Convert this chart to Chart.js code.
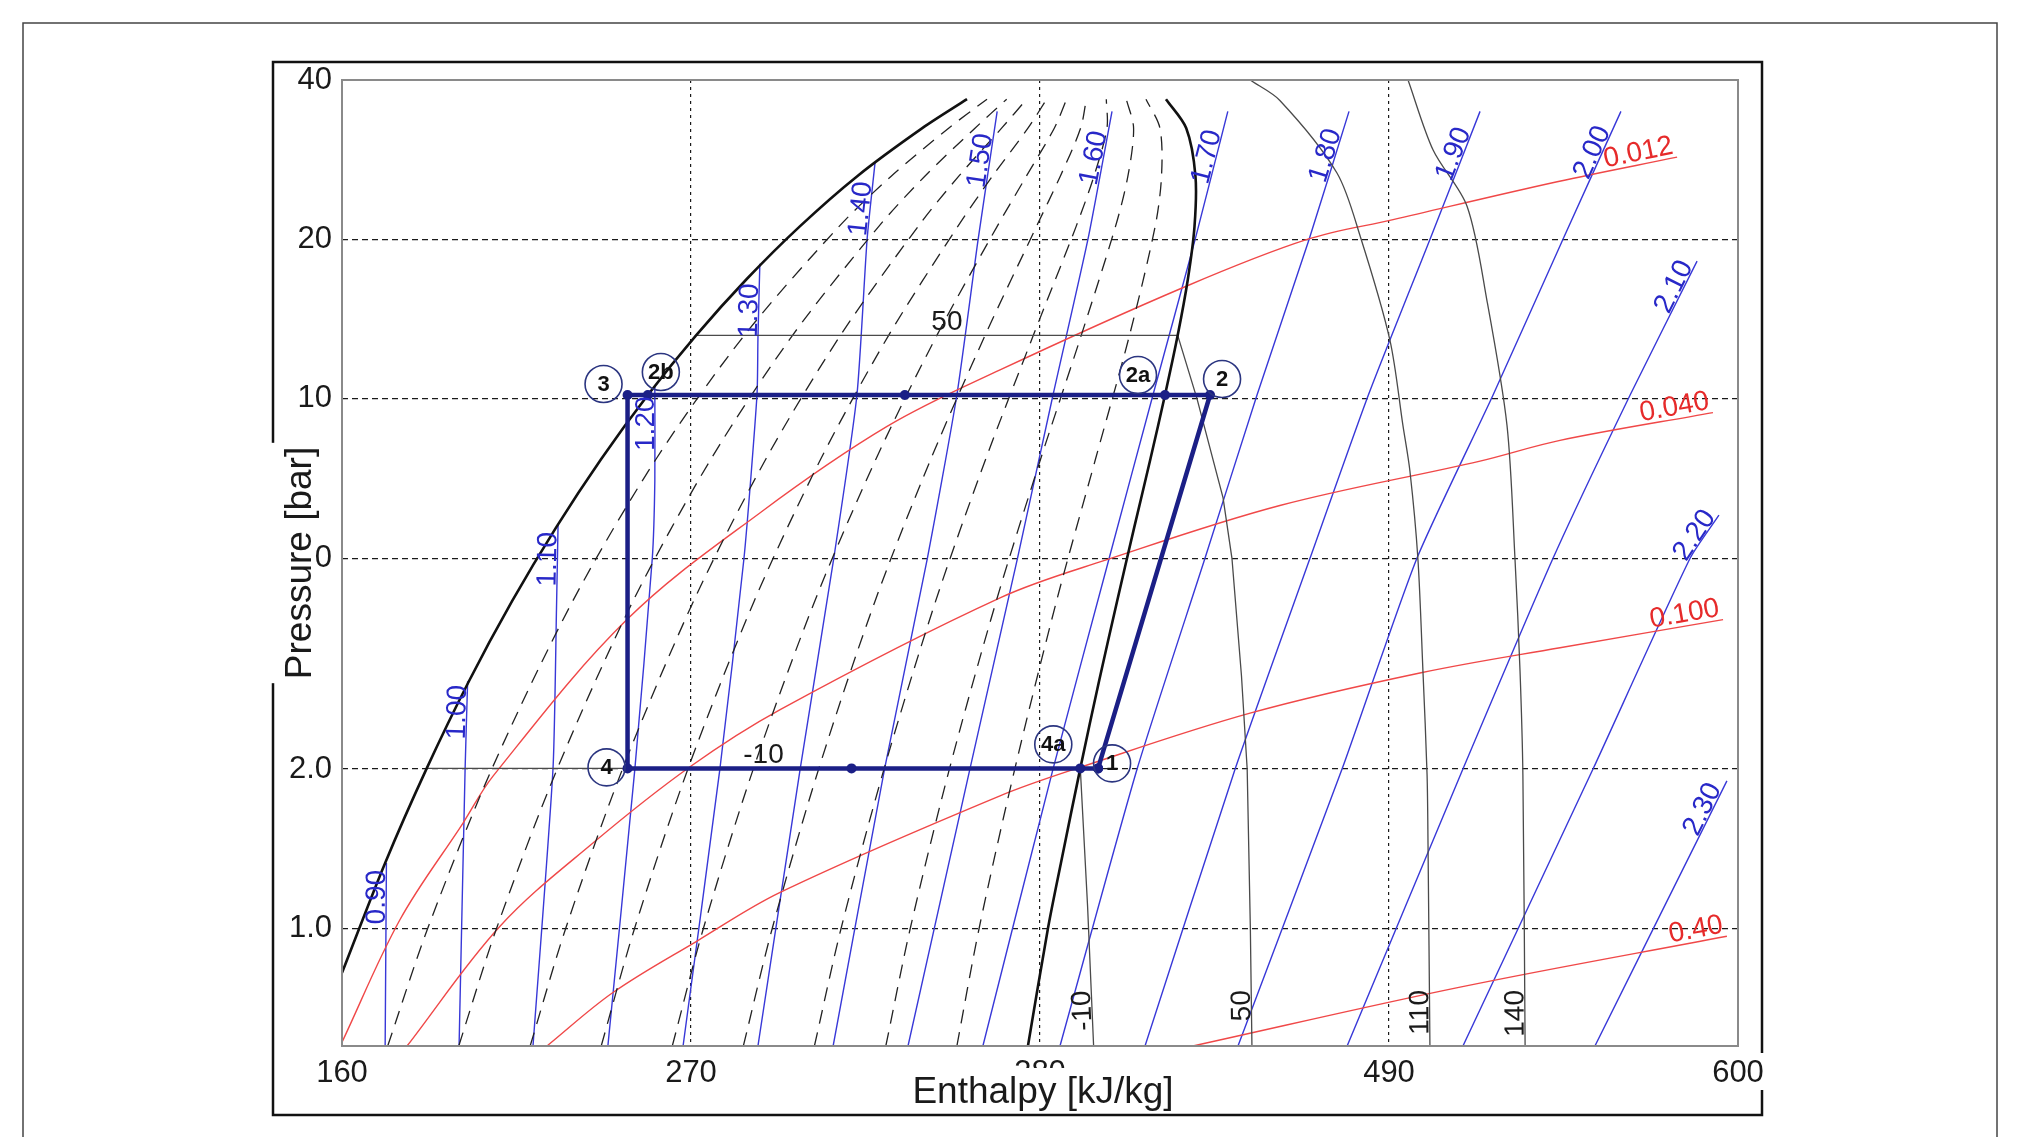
<!DOCTYPE html>
<html>
<head>
<meta charset="utf-8">
<title>R134a log P-h diagram</title>
<script src="https://cdn.jsdelivr.net/npm/chart.js@4.4.1/dist/chart.umd.min.js"></script>
<style>
  html, body { margin: 0; padding: 0; background: #fff; }
  #wrap { position: relative; width: 2020px; height: 1137px; }
</style>
</head>
<body>
<div id="wrap"><canvas id="phChart"></canvas></div>
<script>
// ==========================
// DATA
// ==========================

const xTicks = [160, 270, 380, 490, 600];
const yTicks = [1, 2, 5, 10, 20, 40];
const yTickLabels = ['1.0', '2.0', '5.0', '10', '20', '40'];

// saturation dome [h kJ/kg, p bar]
const liquidLine = [
    [160, 0.825], [173.6, 1.33], [186.7, 2.006], [200.0, 2.93], [213.6, 4.15],
    [227.5, 5.72], [241.7, 7.70], [256.4, 10.17], [271.6, 13.18], [287.5, 16.82],
    [304.3, 21.17], [322.4, 26.33], [342.9, 32.44], [357.0, 36.8]
];
const vaporLine = [
    [376.2, 0.6], [382.5, 1.0], [386.6, 1.33], [392.7, 2.006], [398.6, 2.93],
    [404.3, 4.15], [409.7, 5.72], [414.8, 7.70], [419.4, 10.17], [423.4, 13.18],
    [426.6, 16.82], [428.7, 21.17], [429.0, 26.33], [426.1, 32.44], [419.7, 36.8]
];

// dashed quality lines x = 0.1 ... 0.9
const qualityP = [0.6, 1.0, 2.006, 4.15, 7.70, 13.18, 21.17, 26.33, 32.44, 36.8];
const qualityH = [
    [174.4, 187.0, 207.3, 232.7, 259.0, 286.8, 316.7, 333.1, 351.2, 363.3],
    [196.8, 208.7, 227.9, 251.7, 276.3, 302.0, 329.2, 343.7, 359.5, 369.5],
    [219.3, 230.5, 248.5, 270.8, 293.6, 317.1, 341.6, 354.4, 367.9, 375.8],
    [241.7, 252.2, 269.1, 289.9, 310.9, 332.3, 354.1, 365.0, 376.2, 382.1],
    [264.1, 273.9, 289.7, 309.0, 328.3, 347.5, 366.5, 375.7, 384.5, 388.4],
    [286.5, 295.6, 310.3, 328.0, 345.6, 362.7, 378.9, 386.4, 392.8, 394.6],
    [308.9, 317.3, 330.9, 347.1, 362.9, 377.9, 391.4, 397.0, 401.1, 400.9],
    [331.4, 339.1, 351.5, 366.2, 380.2, 393.0, 403.8, 407.7, 409.5, 407.2],
    [353.8, 360.8, 372.1, 385.2, 397.5, 408.2, 416.3, 418.3, 417.8, 413.4]
];

// isentropes (blue), top end first
const isentropeLabels = ['0.90', '1.00', '1.10', '1.20', '1.30', '1.40', '1.50', '1.60',
    '1.70', '1.80', '1.90', '2.00', '2.10', '2.20', '2.30'];
const isentropeLines = [
    [[174.0, 1.33], [173.6, 0.6]],
    [[199.6, 2.93], [198.8, 2.0], [196.9, 0.6]],
    [[228.1, 5.8], [227.6, 4.0], [226.5, 2.0], [220.2, 0.6]],
    [[258.6, 10.6], [258.6, 7.0], [257.8, 5.0], [252.3, 2.0], [243.8, 0.6]],
    [[291.7, 18.0], [291.1, 13.0], [290.8, 10.17], [286.7, 5.0], [279.1, 2.0], [267.5, 0.6]],
    [[328.0, 27.9], [325.5, 20.0], [322.3, 10.17], [315.0, 5.0], [304.4, 2.0], [291.1, 0.6]],
    [[366.5, 34.9], [360.5, 20.0], [353.8, 10.17], [344.5, 5.0], [331.0, 2.0], [314.8, 0.6]],
    [[402.7, 34.9], [395.1, 20.0], [384.1, 10.17], [372.9, 5.0], [357.9, 2.0], [338.4, 0.6]],
    [[439.2, 34.9], [428.9, 20.0], [415.6, 10.17], [401.8, 5.0], [384.1, 2.0], [362.0, 0.6]],
    [[477.4, 34.9], [464.8, 20.0], [448.4, 10.17], [432.0, 5.0], [410.6, 2.0], [386.3, 0.6]],
    [[518.7, 34.9], [502.9, 20.0], [483.5, 10.17], [465.1, 5.0], [441.5, 2.0], [413.1, 0.6]],
    [[563.1, 34.9], [544.8, 20.0], [522.8, 10.17], [498.8, 5.0], [475.2, 2.0], [442.4, 0.6]],
    [[587.1, 18.2], [566.0, 10.17], [541.7, 5.0], [513.3, 2.0], [476.8, 0.6]],
    [[594.0, 6.03], [584.9, 5.0], [554.3, 2.0], [513.3, 0.6]],
    [[596.5, 1.90], [554.9, 0.6]]
];

// isochores (red), left to right
const isochoreLabels = ['0.012', '0.040', '0.100', '0.40'];
const isochoreLines = [
    [[160, 0.61], [178.3, 1.04], [198.1, 1.58], [207.6, 1.94], [249.8, 3.83], [291.7, 6.09],
     [331.8, 8.87], [367.4, 11.34], [425.9, 16.3], [464.2, 20.0], [491.3, 21.8], [543.0, 25.7],
     [580.8, 28.6]],
    [[180.5, 0.6], [209.8, 1.01], [239.1, 1.45], [269.7, 2.02], [298.1, 2.59], [367.4, 4.21],
     [401.1, 4.97], [455.6, 6.29], [518.7, 7.63], [543.9, 8.35], [592.1, 9.42]],
    [[224.6, 0.6], [245.4, 0.757], [271.9, 0.947], [298.1, 1.17], [367.4, 1.78], [393.2, 2.02],
     [446.2, 2.55], [500.1, 3.04], [543.9, 3.39], [595.3, 3.83]],
    [[428.2, 0.6], [512.4, 0.775], [596.5, 0.967]]
];

// isotherms (grey), bottom end last
const isothermLabels = ['-10', '50', '110', '140'];
const isothermLines = [
    [[186.7, 2.006], [392.7, 2.006], [395.0, 1.1], [396.9, 0.6]],
    [[271.6, 13.18], [423.4, 13.18], [429.5, 10.0], [437.7, 6.5], [440.5, 5.0], [443.5, 3.0],
     [445.3, 2.0], [446.3, 1.0], [446.8, 0.6]],
    [[446.2, 40], [455.6, 36.6], [473.6, 26.7], [480.9, 20.3], [490.3, 12.9], [494.4, 8.9],
     [496.6, 7.3], [499.1, 5.0], [500.7, 3.06], [502.0, 1.95], [502.3, 1.44], [502.9, 0.6]],
    [[496.0, 40], [503.9, 29.5], [514.6, 23.1], [520.9, 15.3], [527.2, 8.9], [529.7, 5.0],
     [531.3, 3.06], [532.2, 1.95], [532.9, 0.6]]
];

// refrigeration cycle state points
const stateNames = ['1', '2', '2a', '2b', '3', '4', '4a'];
const stateH = [398.3, 433.6, 419.4, 256.4, 250.0, 250.0, 392.7];
const stateP = [2.006, 10.17, 10.17, 10.17, 10.17, 2.006, 2.006];
const cycleOrder = [0, 1, 2, 3, 4, 5, 6, 0];
const midH = [337.4, 320.6];
const midP = [10.17, 2.006];


// ==========================
// STYLE
// ==========================

const FONT = '"Liberation Sans", Arial, Helvetica, sans-serif';
const NAVY = '#1b1f86';
const isentropeGaps = [7, 4, 8, 11, 20, 20, 24, 22, 22, 22, 22, 22, 6, 3, 9];
const circleOffsets = {
    '1': [14, -5], '2': [12, -16], '2a': [-27, -20], '2b': [13, -23],
    '3': [-24, -11], '4': [-21, -1], '4a': [-27, -24]
};

const pts = line => line.map(([h, p]) => ({ x: h, y: p }));


// ==========================
// DATASETS
// ==========================

const datasets = [];

datasets.push({
    kind: 'cycle',
    data: cycleOrder.map(i => ({ x: stateH[i], y: stateP[i] })),
    showLine: true,
    tension: 0,
    borderColor: NAVY,
    borderWidth: 4.5,
    pointRadius: 5,
    pointBackgroundColor: NAVY,
    pointBorderWidth: 0,
    order: 0
});

datasets.push({
    kind: 'mid',
    data: midH.map((h, i) => ({ x: h, y: midP[i] })),
    showLine: false,
    pointRadius: 5,
    pointBackgroundColor: NAVY,
    pointBorderWidth: 0,
    order: 0
});

[liquidLine, vaporLine].forEach(line => {
    datasets.push({
        kind: 'dome', data: pts(line), showLine: true, tension: 0.3,
        borderColor: '#111', borderWidth: 2.6, pointRadius: 0, order: 1
    });
});

isothermLines.forEach((line, i) => {
    datasets.push({
        kind: 'isotherm', text: isothermLabels[i], data: pts(line), showLine: true,
        tension: line[0][1] === line[1][1] ? 0 : 0.3,
        borderColor: '#4a4a4a', borderWidth: 1.3, pointRadius: 0, order: 2
    });
});

qualityH.forEach(hs => {
    datasets.push({
        kind: 'quality', data: hs.map((h, j) => ({ x: h, y: qualityP[j] })), showLine: true, tension: 0.3,
        borderColor: '#222', borderWidth: 1.3, borderDash: [14, 9], pointRadius: 0, order: 3
    });
});

isochoreLines.forEach((line, i) => {
    datasets.push({
        kind: 'isochore', text: isochoreLabels[i], data: pts(line), showLine: true, tension: 0.35,
        borderColor: '#f04848', borderWidth: 1.4, pointRadius: 0, order: 4
    });
});

isentropeLines.forEach((line, i) => {
    datasets.push({
        kind: 'isentrope', text: isentropeLabels[i], gap: isentropeGaps[i], data: pts(line),
        showLine: true, tension: 0.2,
        borderColor: '#3838d8', borderWidth: 1.4, pointRadius: 0, order: 5
    });
});


// ==========================
// DRAWING HELPERS
// ==========================

function unit(a, b) {
    const dx = b.x - a.x, dy = b.y - a.y;
    const l = Math.hypot(dx, dy) || 1;
    return { x: dx / l, y: dy / l };
}

// text centred along a line direction u, shifted "up" (text frame) by off
function textAlong(ctx, text, anchor, u, along, off) {
    const w = ctx.measureText(text).width;
    const a = along(w);
    const cx = anchor.x + u.x * a + u.y * off;
    const cy = anchor.y + u.y * a - u.x * off;
    ctx.save();
    ctx.translate(cx, cy);
    ctx.rotate(Math.atan2(u.y, u.x));
    ctx.textAlign = 'center';
    ctx.textBaseline = 'middle';
    ctx.fillText(text, 0, 0);
    ctx.restore();
}

const diagramDecor = {
    id: 'diagramDecor',

    beforeDraw(chart) {
        const ctx = chart.ctx;
        ctx.save();
        ctx.fillStyle = '#fff';
        ctx.fillRect(0, 0, chart.width, chart.height);
        ctx.strokeStyle = '#444';
        ctx.lineWidth = 1.5;
        ctx.strokeRect(23, 23, 1974, 1140);
        ctx.strokeStyle = '#111';
        ctx.lineWidth = 2.5;
        ctx.beginPath();
        ctx.moveTo(1762, 1053);
        ctx.lineTo(1762, 62);
        ctx.lineTo(273, 62);
        ctx.lineTo(273, 1115);
        ctx.lineTo(1762, 1115);
        ctx.lineTo(1762, 1090);
        ctx.stroke();
        ctx.restore();
    },

    afterDatasetsDraw(chart) {
        const ctx = chart.ctx;
        const area = chart.chartArea;
        ctx.save();

        ctx.strokeStyle = '#8a8a8a';
        ctx.lineWidth = 2;
        ctx.strokeRect(area.left, area.top, area.right - area.left, area.bottom - area.top);

        chart.data.datasets.forEach((ds, i) => {
            if (!ds.text) return;
            const p = chart.getDatasetMeta(i).data;
            const n = p.length;

            if (ds.kind === 'isentrope') {
                ctx.font = '28px ' + FONT;
                ctx.fillStyle = '#2828c8';
                textAlong(ctx, ds.text, p[0], unit(p[1], p[0]), w => -(ds.gap + w / 2), 9);
            }

            if (ds.kind === 'isochore') {
                ctx.font = '28px ' + FONT;
                ctx.fillStyle = '#e62a2a';
                textAlong(ctx, ds.text, p[n - 1], unit(p[n - 2], p[n - 1]), w => -(2 + w / 2), 12);
            }

            if (ds.kind === 'isotherm') {
                ctx.font = '28px ' + FONT;
                ctx.fillStyle = '#1a1a1a';
                textAlong(ctx, ds.text, p[n - 1], unit(p[n - 1], p[n - 2]), w => 56 - w / 2, 9);
                if (Math.abs(p[0].y - p[1].y) < 0.5) {
                    ctx.textAlign = 'center';
                    ctx.textBaseline = 'middle';
                    ctx.fillText(ds.text, (p[0].x + p[1].x) / 2 + 10, p[0].y - 13);
                }
            }
        });

        // numbered circles at the cycle states
        chart.data.datasets.forEach((ds, i) => {
            if (ds.kind !== 'cycle') return;
            const p = chart.getDatasetMeta(i).data;
            for (let j = 0; j < cycleOrder.length - 1; j++) {
                const name = stateNames[cycleOrder[j]];
                const [dx, dy] = circleOffsets[name];
                const cx = p[j].x + dx, cy = p[j].y + dy;
                ctx.beginPath();
                ctx.arc(cx, cy, 18.5, 0, Math.PI * 2);
                ctx.strokeStyle = '#2b3580';
                ctx.lineWidth = 1.6;
                ctx.stroke();
                ctx.font = 'bold 22px ' + FONT;
                ctx.fillStyle = '#111';
                ctx.textAlign = 'center';
                ctx.textBaseline = 'middle';
                ctx.fillText(name, cx, cy + 1);
            }
        });

        ctx.restore();
    },

    afterDraw(chart) {
        const ctx = chart.ctx;
        const area = chart.chartArea;
        ctx.save();
        ctx.font = '37px ' + FONT;

        // x title (white box hides most of the 380 tick)
        const xt = 'Enthalpy [kJ/kg]';
        const xw = ctx.measureText(xt).width;
        const xc = (area.left + area.right) / 2 + 3;
        ctx.fillStyle = '#fff';
        ctx.fillRect(xc - xw / 2 - 4, 1068, xw + 8, 44);
        ctx.fillStyle = '#1a1a1a';
        ctx.textAlign = 'center';
        ctx.textBaseline = 'alphabetic';
        ctx.fillText(xt, xc, 1103);

        // y title (white box hides "5." of the 5.0 tick)
        const yt = 'Pressure [bar]';
        const yw = ctx.measureText(yt).width;
        ctx.translate(311, (area.top + area.bottom) / 2);
        ctx.rotate(-Math.PI / 2);
        ctx.fillStyle = '#fff';
        ctx.fillRect(-yw / 2 - 4, -43, yw + 8, 48);
        ctx.fillStyle = '#1a1a1a';
        ctx.fillText(yt, 0, 0);
        ctx.restore();
    }
};


// ==========================
// CHART
// ==========================

const phCtx = document.getElementById('phChart');

new Chart(phCtx, {

    type: 'scatter',

    data: { datasets: datasets },

    options: {

        responsive: true,
        maintainAspectRatio: false,
        devicePixelRatio: 1,
        animation: false,
        events: [],

        layout: {
            padding: { top: 80, right: 282, bottom: 0, left: 0 }
        },

        plugins: {
            legend: { display: false },
            tooltip: { enabled: false }
        },

        scales: {

            x: {
                type: 'linear',
                min: 160,
                max: 600,
                afterBuildTicks: scale => { scale.ticks = xTicks.map(v => ({ value: v })); },
                afterFit: scale => { scale.height = 91; },
                ticks: {
                    autoSkip: false,
                    maxRotation: 0,
                    padding: 9,
                    color: '#1a1a1a',
                    font: { family: FONT, size: 31 },
                    callback: v => String(v)
                },
                grid: {
                    drawTicks: false,
                    lineWidth: 1.2,
                    color: ctx => (ctx.tick && (ctx.tick.value === 160 || ctx.tick.value === 600)) ? 'rgba(0,0,0,0)' : '#1a1a1a'
                },
                border: { display: false, dash: [3, 4] }
            },

            y: {
                type: 'logarithmic',
                min: 0.6,
                max: 40,
                afterBuildTicks: scale => { scale.ticks = yTicks.map(v => ({ value: v })); },
                afterFit: scale => { scale.width = 342; },
                ticks: {
                    autoSkip: false,
                    padding: 10,
                    color: '#1a1a1a',
                    font: { family: FONT, size: 31 },
                    callback: v => yTickLabels[yTicks.indexOf(v)]
                },
                grid: {
                    drawTicks: false,
                    lineWidth: 1.2,
                    color: ctx => (ctx.tick && ctx.tick.value === 40) ? 'rgba(0,0,0,0)' : '#1a1a1a'
                },
                border: { display: false, dash: [6, 4] }
            }

        }

    },

    plugins: [diagramDecor]

});
</script>
</body>
</html>
